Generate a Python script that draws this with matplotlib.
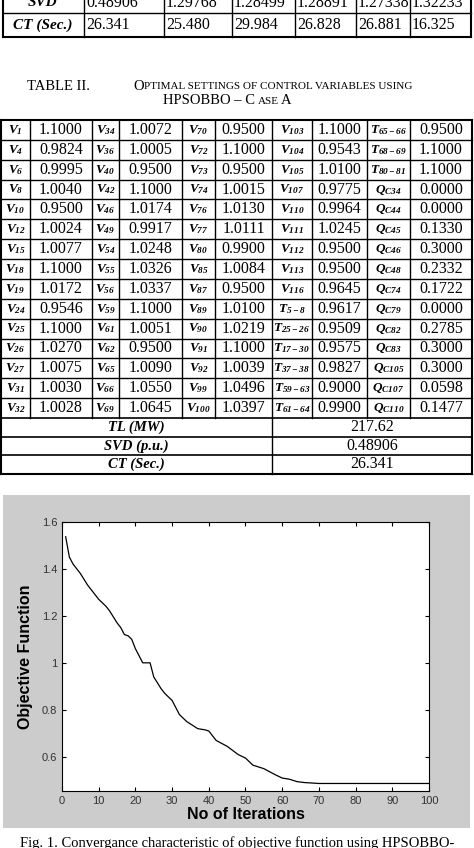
import matplotlib
matplotlib.use("Agg")
import matplotlib.pyplot as plt
from matplotlib.lines import Line2D
from matplotlib.patches import Rectangle

plt.rcParams['mathtext.fontset'] = 'custom'
plt.rcParams['mathtext.rm'] = 'Liberation Serif:bold:italic'
plt.rcParams['mathtext.it'] = 'Liberation Serif:bold:italic'

W, H = 474, 848
SERIF = 'Liberation Serif'
SANS = 'Liberation Sans'

# ---- data ----
t1_labels = ['SVD', 'CT (Sec.)']
t1_svd = ['0.48906', '1.29768', '1.28499', '1.28891', '1.27338', '1.32233']
t1_ct = ['26.341', '25.480', '29.984', '26.828', '26.881', '16.325']

col1_names = ['1', '4', '6', '8', '10', '12', '15', '18', '19', '24', '25', '26', '27', '31', '32']
col1_vals = ['1.1000', '0.9824', '0.9995', '1.0040', '0.9500', '1.0024', '1.0077', '1.1000', '1.0172', '0.9546', '1.1000', '1.0270', '1.0075', '1.0030', '1.0028']
col2_names = ['34', '36', '40', '42', '46', '49', '54', '55', '56', '59', '61', '62', '65', '66', '69']
col2_vals = ['1.0072', '1.0005', '0.9500', '1.1000', '1.0174', '0.9917', '1.0248', '1.0326', '1.0337', '1.1000', '1.0051', '0.9500', '1.0090', '1.0550', '1.0645']
col3_names = ['70', '72', '73', '74', '76', '77', '80', '85', '87', '89', '90', '91', '92', '99', '100']
col3_vals = ['0.9500', '1.1000', '0.9500', '1.0015', '1.0130', '1.0111', '0.9900', '1.0084', '0.9500', '1.0100', '1.0219', '1.1000', '1.0039', '1.0496', '1.0397']
col4_names = ['V103', 'V104', 'V105', 'V107', 'V110', 'V111', 'V112', 'V113', 'V116', 'T5-8', 'T25-26', 'T17-30', 'T37-38', 'T59-63', 'T61-64']
col4_vals = ['1.1000', '0.9543', '1.0100', '0.9775', '0.9964', '1.0245', '0.9500', '0.9500', '0.9645', '0.9617', '0.9509', '0.9575', '0.9827', '0.9000', '0.9900']
col5_names = ['T65-66', 'T68-69', 'T80-81', 'QC34', 'QC44', 'QC45', 'QC46', 'QC48', 'QC74', 'QC79', 'QC82', 'QC83', 'QC105', 'QC107', 'QC110']
col5_vals = ['0.9500', '1.1000', '1.1000', '0.0000', '0.0000', '0.1330', '0.3000', '0.2332', '0.1722', '0.0000', '0.2785', '0.3000', '0.3000', '0.0598', '0.1477']
summary_labels = ['TL (MW)', 'SVD (p.u.)', 'CT (Sec.)']
summary_vals = ['217.62', '0.48906', '26.341']

iters = [1, 2, 3, 4, 5, 7, 9, 10, 12, 13, 15, 16, 17, 18, 19, 20, 22, 24, 25, 27, 28, 30, 32, 34, 35, 37, 39, 40, 42, 45, 48, 50, 52, 55, 58, 60, 62, 64, 66, 68, 70, 100]
objective = [1.536, 1.45, 1.42, 1.40, 1.38, 1.33, 1.29, 1.27, 1.24, 1.22, 1.17, 1.15, 1.12, 1.115, 1.10, 1.06, 1.00, 1.00, 0.94, 0.89, 0.87, 0.84, 0.78, 0.75, 0.74, 0.72, 0.715, 0.71, 0.67, 0.645, 0.61, 0.595, 0.565, 0.55, 0.525, 0.51, 0.505, 0.495, 0.491, 0.489, 0.487, 0.487]

fig = plt.figure(figsize=(W / 100, H / 100), dpi=100)
fig.patch.set_facecolor('white')

def fx(x): return x / W
def fy(y): return 1 - y / H

def hline(x0, x1, y, lw=1.0):
    fig.add_artist(Line2D([fx(x0), fx(x1)], [fy(y), fy(y)], color='black', lw=lw))

def vline(x, y0, y1, lw=1.0):
    fig.add_artist(Line2D([fx(x), fx(x)], [fy(y0), fy(y1)], color='black', lw=lw))

def txt(x, y, s, size=11, ha='center', **kw):
    fig.text(fx(x), fy(y), s, ha=ha, va='center', fontsize=size, family=SERIF, **kw)

def label(s):
    return r'$\mathrm{%s}_{\mathrm{%s}}$' % (s[0], s[1:])

# ---- Table I fragment ----
xs1 = [3, 84, 164, 232, 295, 356, 410, 471]
vline(3, -5, 37, 1.5); vline(471, -5, 37, 1.5)
for x in xs1[1:-1]:
    vline(x, -5, 37)
hline(3, 471, 12.5); hline(3, 471, 37, 1.5)
for lab, vals, yc in [(t1_labels[0], t1_svd, 3), (t1_labels[1], t1_ct, 25)]:
    txt(43, yc, lab, 11, weight='bold', style='italic')
    for i, v in enumerate(vals):
        txt(xs1[i + 1] + 2, yc, v, 11.5, ha='left')

# ---- Table II title ----
txt(27, 86, 'TABLE II.', 10.5, ha='left')
txt(133, 86, 'O', 10.5, ha='left')
txt(143.5, 86.5, 'PTIMAL SETTINGS OF CONTROL VARIABLES USING', 8, ha='left')
txt(163, 101, 'HPSOBBO – C', 10.5, ha='left')
txt(258, 101.5, 'ASE', 8, ha='left')
txt(281, 101, 'A', 10.5, ha='left')

# ---- Table II ----
top, bot = 120, 418
n = 15
rh = (bot - top) / n
xs = [1, 30, 92, 119, 182, 215, 272, 312, 367, 410, 472]
for x in xs[1:-1]:
    vline(x, top, bot)
vline(1, top, 474, 1.5); vline(472, top, 474, 1.5)
vline(272, bot, 474)
hline(1, 472, top, 1.5)
for i in range(1, n):
    hline(1, 472, top + i * rh)
sum_lines = [418, 437, 455, 474]
for y in sum_lines[:-1]:
    hline(1, 472, y, 1.2)
hline(1, 472, 474, 1.5)

cols = [(['V' + s for s in col1_names], col1_vals),
        (['V' + s for s in col2_names], col2_vals),
        (['V' + s for s in col3_names], col3_vals),
        (col4_names, col4_vals),
        (col5_names, col5_vals)]
for c, (names, vals) in enumerate(cols):
    xl0, xl1, xv1 = xs[2 * c], xs[2 * c + 1], xs[2 * c + 2]
    for r in range(n):
        yc = top + (r + 0.5) * rh
        txt((xl0 + xl1) / 2, yc, label(names[r]), 9.5)
        txt((xl1 + xv1) / 2, yc, vals[r], 11.5)
for i in range(3):
    yc = (sum_lines[i] + sum_lines[i + 1]) / 2
    txt(136, yc, summary_labels[i], 10.5, weight='bold', style='italic')
    txt(372, yc, summary_vals[i], 11.5)

# ---- chart ----
fig.add_artist(Rectangle((fx(3), fy(828)), fx(467), (828 - 495) / H,
                         transform=fig.transFigure, facecolor='#cccccc', edgecolor='none', zorder=0))
ax = fig.add_axes([fx(62), fy(791), fx(367), (791 - 521.7) / H])
ax.set_facecolor('white')
ax.plot(iters, objective, color='black', lw=0.9)
ax.set_xlim(0, 100)
ax.set_ylim(0.455, 1.6)
ax.set_xticks(range(0, 101, 10))
ax.set_yticks([0.6, 0.8, 1.0, 1.2, 1.4, 1.6])
ax.set_yticklabels(['0.6', '0.8', '1', '1.2', '1.4', '1.6'])
ax.tick_params(direction='in', top=True, right=True, labelsize=8, length=3, colors='black', labelcolor='#333333')
for sp in ax.spines.values():
    sp.set_linewidth(0.8)
for lbl in ax.get_xticklabels() + ax.get_yticklabels():
    lbl.set_family(SANS)
ax.set_xlabel('No of Iterations', fontsize=11.5, weight='bold', family=SANS, labelpad=1)
ax.set_ylabel('Objective Function', fontsize=11.5, weight='bold', family=SANS, labelpad=6)

fig.text(fx(237), fy(836), 'Fig. 1. Convergance characteristic of objective function using HPSOBBO-',
         ha='center', va='top', fontsize=10.5, family=SERIF)

fig.savefig('out.png', dpi=100)
